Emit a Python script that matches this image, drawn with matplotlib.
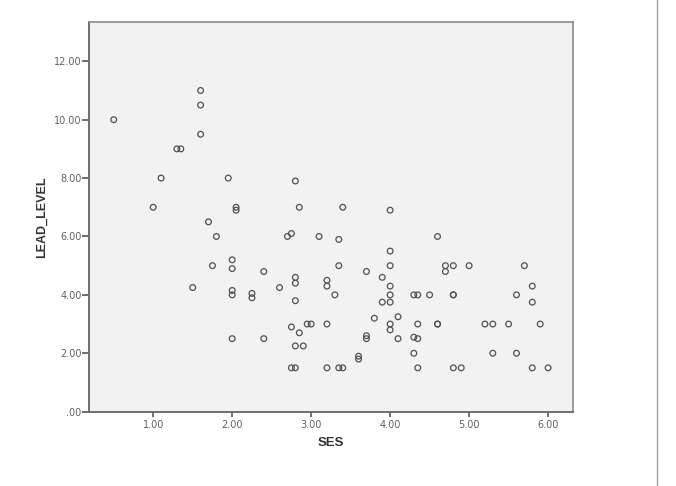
import matplotlib
matplotlib.use("Agg")
import matplotlib.pyplot as plt
from matplotlib.lines import Line2D

# SES vs LEAD_LEVEL
ses = [0.50, 1.60, 1.60, 1.60, 1.30, 1.35, 1.10, 1.95, 1.00, 2.05, 2.05,
       1.70, 1.80, 1.75, 1.50, 2.00, 2.00, 2.00, 2.00, 2.00, 2.25, 2.25,
       2.40, 2.40, 2.60, 2.70, 2.75, 2.80, 2.85, 2.80, 2.80, 2.80, 2.75,
       2.85, 2.80, 2.90, 2.75, 2.80, 2.95, 3.00, 3.10, 3.20, 3.20, 3.30,
       3.20, 3.20, 3.35, 3.40, 3.35, 3.35, 3.40, 3.60, 3.60, 3.70, 3.70,
       3.70, 3.80, 3.90, 3.90, 4.00, 4.00, 4.00, 4.00, 4.00, 4.00, 4.00,
       4.00, 4.10, 4.10, 4.30, 4.35, 4.30, 4.35, 4.35, 4.30, 4.35, 4.50,
       4.60, 4.60, 4.60, 4.70, 4.70, 4.80, 4.80, 4.80, 4.80, 4.90, 5.00,
       5.20, 5.30, 5.30, 5.50, 5.60, 5.60, 5.70, 5.80, 5.80, 5.80, 5.90,
       6.00]
lead_level = [10.0, 11.0, 10.5, 9.5, 9.0, 9.0, 8.0, 8.0, 7.0, 7.0, 6.9,
              6.5, 6.0, 5.0, 4.25, 5.2, 4.9, 4.15, 4.0, 2.5, 4.05, 3.9,
              4.8, 2.5, 4.25, 6.0, 6.1, 7.9, 7.0, 4.6, 4.4, 3.8, 2.9,
              2.7, 2.25, 2.25, 1.5, 1.5, 3.0, 3.0, 6.0, 4.5, 4.3, 4.0,
              3.0, 1.5, 5.9, 7.0, 5.0, 1.5, 1.5, 1.9, 1.8, 4.8, 2.6,
              2.5, 3.2, 4.6, 3.75, 6.9, 5.5, 5.0, 4.3, 4.0, 3.75, 3.0,
              2.8, 3.25, 2.5, 4.0, 4.0, 2.55, 2.5, 3.0, 2.0, 1.5, 4.0,
              6.0, 3.0, 3.0, 5.0, 4.8, 5.0, 4.0, 4.0, 1.5, 1.5, 5.0,
              3.0, 3.0, 2.0, 3.0, 4.0, 2.0, 5.0, 4.3, 3.75, 1.5, 3.0,
              1.5]

y_ticks = [0, 2, 4, 6, 8, 10, 12]
y_labels = [".00", "2.00", "4.00", "6.00", "8.00", "10.00", "12.00"]
x_ticks = [1, 2, 3, 4, 5, 6]
x_labels = ["1.00", "2.00", "3.00", "4.00", "5.00", "6.00"]

fig = plt.figure(figsize=(6.76, 4.86), dpi=100)
ax = fig.add_axes([0.132, 0.153, 0.715, 0.802])
ax.set_facecolor("#f2f2f2")

ax.scatter(ses, lead_level, s=17, facecolors="none", edgecolors="#505050",
           linewidths=0.9, zorder=3)

ax.set_xlim(0.19, 6.31)
ax.set_ylim(0, 13.35)

ax.set_xticks(x_ticks)
ax.set_xticklabels(x_labels)
ax.set_yticks(y_ticks)
ax.set_yticklabels(y_labels)
ax.tick_params(axis="both", direction="out", colors="#555555", labelsize=7,
               width=1.2, labelcolor="#606060")
ax.tick_params(axis="y", length=5, pad=0.5)
ax.tick_params(axis="x", length=3.5, pad=2.5)

for side in ["left", "bottom"]:
    ax.spines[side].set_color("#6e6e6e")
    ax.spines[side].set_linewidth(1.4)
for side in ["top", "right"]:
    ax.spines[side].set_color("#8a8a8a")
    ax.spines[side].set_linewidth(1.2)

ax.set_xlabel("SES", fontsize=9.5, fontweight="bold", color="#333333",
              family="Liberation Sans", labelpad=5)
ax.set_ylabel("LEAD_LEVEL", fontsize=9, fontweight="bold", color="#333333",
              family="Liberation Sans", labelpad=4)

# thin gray separator on the right of the picture
fig.add_artist(Line2D([0.9715, 0.9715], [0, 1], transform=fig.transFigure,
                      color="#a0a0a0", linewidth=1.0))

fig.savefig("out.png", dpi=100, facecolor="white")
